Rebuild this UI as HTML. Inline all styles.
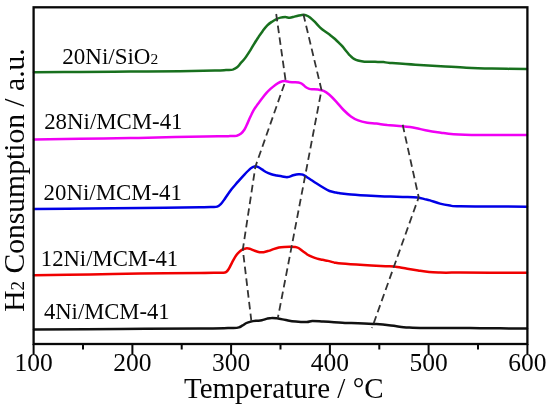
<!DOCTYPE html>
<html><head><meta charset="utf-8">
<style>
html,body{margin:0;padding:0;background:#fff;width:550px;height:404px;overflow:hidden}
svg{display:block}
text{font-family:"Liberation Serif","Times New Roman",serif;fill:#050505}
</style></head><body>
<svg width="550" height="404" viewBox="0 0 550 404">
<g fill="none" stroke-linejoin="round" stroke-linecap="round" stroke-width="2.5">
<path stroke="#18701e" d="M34.0,72.2 C41.7,72.2 64.0,72.0 80.0,71.9 C96.0,71.8 113.3,71.7 130.0,71.6 C146.7,71.5 165.8,71.4 180.0,71.2 C194.2,71.0 207.3,70.8 215.0,70.6 C222.7,70.4 223.1,70.2 226.0,70.0 C228.9,69.8 230.8,70.0 232.7,69.6 C234.5,69.1 235.8,68.3 237.1,67.3 C238.4,66.3 239.2,64.9 240.5,63.4 C241.8,61.9 243.2,60.8 244.9,58.4 C246.6,56.0 249.3,51.8 250.9,49.3 C252.5,46.8 253.0,45.7 254.3,43.6 C255.6,41.5 257.2,38.9 258.7,36.7 C260.1,34.5 261.6,32.5 263.0,30.6 C264.4,28.7 265.9,26.8 267.3,25.4 C268.8,23.9 270.2,22.9 271.7,21.9 C273.1,20.9 274.5,20.0 276.0,19.3 C277.5,18.6 278.9,18.0 280.5,17.6 C282.1,17.2 283.8,17.1 285.3,17.1 C286.9,17.1 288.3,17.9 289.8,17.8 C291.3,17.7 292.9,17.0 294.4,16.6 C295.9,16.2 297.4,15.8 298.9,15.5 C300.4,15.2 302.3,14.8 303.5,14.8 C304.7,14.8 305.1,14.9 306.2,15.3 C307.3,15.7 308.6,16.3 310.0,17.4 C311.4,18.5 313.2,20.2 314.9,21.9 C316.5,23.5 318.2,25.7 319.9,27.3 C321.5,28.9 323.1,30.1 324.8,31.3 C326.5,32.5 328.1,33.5 329.8,34.8 C331.5,36.1 333.5,37.6 335.0,39.0 C336.5,40.4 337.7,41.6 339.0,42.9 C340.3,44.2 341.8,45.6 342.9,46.9 C344.0,48.2 344.9,49.6 345.9,50.8 C346.9,52.0 348.0,53.3 348.9,54.3 C349.8,55.2 350.1,55.8 351.0,56.5 C351.9,57.2 352.8,58.1 354.0,58.8 C355.2,59.5 356.5,60.1 358.0,60.5 C359.5,60.9 361.3,61.2 363.0,61.4 C364.7,61.6 366.0,61.6 368.0,61.7 C370.0,61.8 372.4,61.7 375.0,61.8 C377.6,61.9 381.0,61.9 383.5,62.1 C386.0,62.3 384.7,62.5 390.0,62.9 C395.3,63.3 406.9,64.2 415.4,64.7 C423.9,65.2 432.4,65.7 440.9,66.2 C449.4,66.7 457.8,67.4 466.3,67.8 C474.8,68.2 481.7,68.4 491.8,68.6 C501.9,68.8 521.1,69.0 527.0,69.1"/>
<path stroke="#f000f4" d="M34.0,139.6 C41.7,139.5 64.0,139.1 80.0,138.8 C96.0,138.6 114.2,138.4 130.0,138.1 C145.8,137.8 162.5,137.4 175.0,137.1 C187.5,136.8 196.7,136.7 205.0,136.5 C213.3,136.3 220.8,136.3 225.0,136.2 C229.2,136.1 228.1,136.2 230.0,136.1 C231.9,136.0 234.8,136.1 236.7,135.7 C238.5,135.2 239.8,134.4 241.1,133.4 C242.4,132.4 243.6,130.9 244.5,129.5 C245.4,128.1 246.0,126.7 246.7,125.1 C247.4,123.5 248.2,121.8 248.9,120.1 C249.7,118.4 250.4,116.6 251.2,115.0 C251.9,113.4 252.5,112.2 253.4,110.6 C254.3,109.0 255.6,107.2 256.7,105.6 C257.8,104.0 259.2,102.3 260.1,101.1 C261.0,99.9 260.9,99.8 262.0,98.4 C263.1,97.0 265.0,94.6 266.5,92.9 C268.0,91.2 269.6,89.8 271.1,88.4 C272.6,87.0 274.1,85.8 275.6,84.7 C277.1,83.6 278.7,82.6 280.2,82.0 C281.7,81.4 283.2,81.1 284.7,81.1 C286.2,81.1 287.8,81.8 289.3,82.0 C290.8,82.2 292.3,82.1 293.8,82.2 C295.3,82.3 297.0,82.2 298.4,82.5 C299.8,82.8 300.8,83.0 302.0,83.8 C303.2,84.5 304.4,86.2 305.6,87.0 C306.8,87.8 308.2,88.4 309.3,88.8 C310.4,89.2 310.5,89.2 312.0,89.3 C313.5,89.4 316.3,89.3 318.2,89.6 C320.1,89.9 321.8,90.1 323.6,90.9 C325.4,91.7 327.0,92.7 329.1,94.5 C331.2,96.3 334.0,99.2 336.4,101.8 C338.8,104.4 341.2,107.6 343.6,110.0 C346.0,112.4 348.5,114.7 350.9,116.4 C353.3,118.1 355.5,119.4 358.2,120.4 C360.9,121.5 364.3,122.2 367.3,122.7 C370.3,123.2 373.1,123.2 376.4,123.6 C379.7,124.0 382.9,124.6 387.3,125.1 C391.7,125.5 398.0,125.8 402.7,126.3 C407.4,126.8 411.1,127.2 415.4,128.0 C419.6,128.8 423.9,130.0 428.2,130.8 C432.4,131.6 436.7,132.1 440.9,132.7 C445.1,133.3 447.2,133.8 453.6,134.2 C460.0,134.6 470.5,134.9 479.0,135.0 C487.5,135.1 496.5,134.9 504.5,134.9 C512.5,134.9 523.2,135.1 527.0,135.1"/>
<path stroke="#0000e6" d="M34.0,209.0 C43.3,208.9 72.3,208.6 90.0,208.4 C107.7,208.2 121.7,208.2 140.0,208.0 C158.3,207.8 188.0,207.5 200.0,207.3 C212.0,207.1 209.1,207.1 212.0,207.0 C214.9,206.9 215.7,207.1 217.2,206.6 C218.7,206.1 219.7,205.1 221.0,203.8 C222.3,202.5 223.2,201.1 224.9,198.7 C226.6,196.3 229.2,192.4 231.3,189.6 C233.5,186.8 235.7,184.4 237.8,181.9 C240.0,179.4 242.0,177.1 244.2,174.8 C246.3,172.6 249.0,169.8 250.7,168.4 C252.4,167.0 253.2,166.6 254.5,166.4 C255.8,166.2 257.1,166.6 258.4,167.1 C259.6,167.6 260.8,168.6 262.0,169.4 C263.2,170.2 264.3,171.2 265.9,172.0 C267.5,172.8 269.6,173.6 271.4,174.2 C273.2,174.8 275.0,175.1 276.8,175.5 C278.6,175.9 280.5,176.1 282.3,176.4 C284.1,176.7 285.9,177.3 287.7,177.1 C289.5,176.9 291.4,175.8 293.2,175.3 C295.0,174.8 297.0,174.3 298.6,174.2 C300.2,174.1 301.5,174.1 303.0,174.7 C304.5,175.2 305.9,176.6 307.4,177.5 C308.8,178.4 310.1,179.2 311.7,180.2 C313.2,181.2 314.8,182.3 316.7,183.5 C318.6,184.7 321.0,186.2 323.1,187.5 C325.2,188.8 327.4,190.2 329.5,191.0 C331.6,191.8 334.4,192.2 336.0,192.6 C337.6,192.9 337.1,192.8 339.1,193.1 C341.1,193.4 343.6,193.8 348.2,194.2 C352.8,194.6 360.3,195.1 366.4,195.5 C372.4,195.9 378.4,196.2 384.5,196.4 C390.6,196.6 397.2,196.7 402.7,196.9 C408.2,197.1 413.7,197.1 417.3,197.5 C420.9,197.9 422.4,198.6 424.5,199.1 C426.6,199.6 427.4,199.7 430.0,200.4 C432.6,201.2 436.7,202.7 440.0,203.6 C443.3,204.5 446.7,205.1 450.0,205.6 C453.3,206.1 451.7,206.2 460.0,206.3 C468.3,206.5 488.8,206.4 500.0,206.5 C511.2,206.6 522.5,206.7 527.0,206.7"/>
<path stroke="#f00000" d="M34.0,275.3 C43.3,275.1 72.3,274.7 90.0,274.4 C107.7,274.1 121.7,273.8 140.0,273.6 C158.3,273.4 187.5,273.1 200.0,273.0 C212.5,272.9 211.3,272.9 215.0,272.8 C218.7,272.8 220.2,272.8 222.0,272.7 C223.8,272.6 224.8,272.9 226.0,272.2 C227.2,271.5 227.9,270.3 228.9,268.7 C229.9,267.1 230.9,264.7 231.9,262.8 C232.9,260.9 233.9,258.9 234.9,257.3 C235.9,255.7 236.7,254.5 237.8,253.3 C239.0,252.1 240.5,250.7 241.8,249.9 C243.1,249.1 244.5,248.6 245.8,248.4 C247.1,248.2 248.2,248.3 249.7,248.7 C251.2,249.1 253.0,250.1 254.7,250.7 C256.4,251.3 258.1,251.9 259.6,252.2 C261.1,252.4 262.1,252.4 263.6,252.2 C265.1,252.0 266.9,251.4 268.5,250.9 C270.1,250.4 271.8,249.7 273.5,249.1 C275.2,248.5 277.1,247.9 278.9,247.5 C280.7,247.1 282.6,247.0 284.4,246.9 C286.2,246.8 288.0,246.7 289.8,246.7 C291.6,246.7 293.9,246.7 295.3,246.9 C296.8,247.1 297.2,247.3 298.5,248.0 C299.8,248.7 301.4,250.2 302.9,251.3 C304.4,252.4 305.9,253.6 307.3,254.5 C308.8,255.4 310.0,256.0 311.6,256.7 C313.2,257.4 315.3,258.1 317.1,258.6 C318.9,259.1 320.7,259.4 322.5,259.8 C324.3,260.2 326.1,260.5 328.0,260.9 C329.9,261.3 331.7,261.9 334.0,262.4 C336.3,262.8 336.9,263.2 341.8,263.6 C346.7,264.1 356.3,264.7 363.6,265.1 C370.9,265.5 380.4,265.9 385.5,266.2 C390.6,266.4 390.6,266.2 394.2,266.6 C397.8,267.0 403.3,268.2 407.3,268.8 C411.3,269.4 414.6,269.9 418.2,270.5 C421.8,271.1 425.5,271.8 429.1,272.1 C432.7,272.5 434.9,272.5 440.0,272.6 C445.1,272.7 451.7,272.6 460.0,272.6 C468.3,272.6 478.8,272.7 490.0,272.7 C501.2,272.7 520.8,272.7 527.0,272.7"/>
<path stroke="#111111" d="M34.0,329.6 C48.3,329.5 92.3,329.2 120.0,329.0 C147.7,328.8 182.0,328.6 200.0,328.5 C218.0,328.4 222.4,328.2 228.0,328.1 C233.6,328.0 231.7,328.2 233.5,328.1 C235.3,328.0 237.5,327.8 238.9,327.4 C240.3,327.0 240.9,326.4 242.2,325.7 C243.5,325.0 245.1,323.7 246.5,323.0 C247.9,322.3 249.2,322.0 250.9,321.6 C252.6,321.2 254.6,321.0 256.4,320.8 C258.2,320.6 260.0,320.7 261.8,320.3 C263.6,319.9 265.7,319.0 267.3,318.6 C268.9,318.2 270.0,317.9 271.6,317.9 C273.2,317.8 275.3,318.1 277.1,318.3 C278.9,318.6 280.7,319.0 282.5,319.4 C284.3,319.8 285.8,320.0 288.0,320.4 C290.2,320.8 292.8,321.2 295.9,321.5 C299.0,321.8 304.1,322.1 306.8,322.0 C309.5,321.9 309.6,321.0 312.3,320.9 C315.0,320.8 319.6,321.3 323.2,321.5 C326.8,321.7 330.5,322.0 334.1,322.2 C337.7,322.4 341.0,322.7 345.0,322.9 C349.0,323.1 353.0,323.0 358.2,323.2 C363.4,323.4 370.9,323.7 376.4,324.1 C381.8,324.5 386.4,325.0 390.9,325.5 C395.4,326.0 400.0,326.8 403.6,327.2 C407.2,327.6 408.8,327.5 412.7,327.7 C416.6,327.9 422.8,328.1 427.3,328.1 C431.9,328.1 432.9,327.9 440.0,327.9 C447.1,327.9 460.0,328.0 470.0,328.1 C480.0,328.2 490.5,328.2 500.0,328.3 C509.5,328.4 522.5,328.5 527.0,328.5"/>
</g>
<g fill="none" stroke="#333" stroke-width="1.8" stroke-dasharray="7.5,4.3">
<path d="M276.2,14.0 L285.6,80.5 L255.4,166.6 L242.8,249.6 L251.8,324.5"/>
<path d="M303.4,14.2 L321.5,90.0 L305.2,175.6 L291.6,246.7 L277.8,318.2"/>
<path d="M402.7,124.8 L418.7,197.3 L372.0,328.0"/>
</g>
<rect x="33.6" y="7.3" width="493.8" height="336.7" fill="none" stroke="#080808" stroke-width="2.3"/>
<g stroke="#080808" stroke-width="2">
<path d="M33.6,344 V354 M132.4,344 V354 M231.1,344 V354 M329.9,344 V354 M428.6,344 V354 M527.4,344 V354 "/>
<path d="M83.0,344 V349.5 M181.7,344 V349.5 M280.5,344 V349.5 M379.3,344 V349.5 M478.0,344 V349.5 "/>
</g>
<g font-size="25.5" text-anchor="middle">
<text x="33.6" y="370.6">100</text>
<text x="132.4" y="370.6">200</text>
<text x="231.1" y="370.6">300</text>
<text x="329.9" y="370.6">400</text>
<text x="428.6" y="370.6">500</text>
<text x="527.4" y="370.6">600</text>
</g>
<text x="184" y="397.6" font-size="29">Temperature / °C</text>
<text transform="translate(24.3,311.8) rotate(-90)" font-size="29.6">H<tspan font-size="19">2</tspan> Consumption / a.u.</text>
<g font-size="23">
<text x="62.3" y="63.8">20Ni/SiO<tspan font-size="15.5">2</tspan></text>
<text x="44.2" y="129.3" font-size="22.85">28Ni/MCM-41</text>
<text x="43.6" y="199.6" font-size="22.85">20Ni/MCM-41</text>
<text x="40.8" y="266" font-size="22.7">12Ni/MCM-41</text>
<text x="44" y="318.6" font-size="22.6">4Ni/MCM-41</text>
</g>
</svg>
</body></html>
